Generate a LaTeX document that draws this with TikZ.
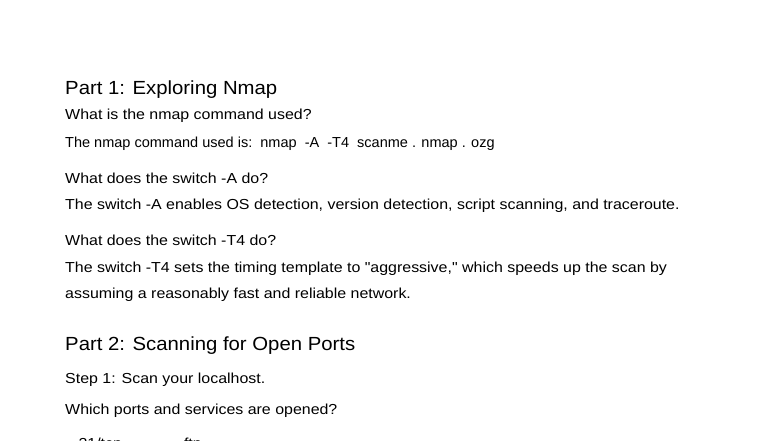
\documentclass[tikz,border=0pt]{standalone}
\usepackage{fontspec}
\setmainfont{Liberation Sans}
\newfontfamily\docfont{Liberation Sans}
\tikzset{
  head/.style={anchor=base west, inner sep=0pt, xscale=1.07, font=\docfont\fontsize{19}{22}\selectfont},
  body/.style={anchor=base west, inner sep=0pt, xscale=1.1, font=\docfont\fontsize{14.5}{17}\selectfont},
}
\begin{document}
\begin{tikzpicture}[x=1pt,y=-1pt]
\useasboundingbox (0,0) rectangle (784,441);
\clip (0,0) rectangle (784,441);

\node (p1) [head] at (65,95) {Part 1: Exploring Nmap};
\node (q1) [body] at (65,120) {What is the nmap command used?};
\node (a1) [body,xscale=0.91] at (65,147) {The nmap command used is:\ \ nmap\ \ -A\ \ -T4\ \ scanme . nmap . ozg};
\node (q2) [body] at (65,183) {What does the switch -A do?};
\node (a2) [body] at (65,209) {The switch -A enables OS detection, version detection, script scanning, and traceroute.};
\node (q3) [body] at (65,245) {What does the switch -T4 do?};
\node (a3) [body] at (65,272) {The switch -T4 sets the timing template to "aggressive," which speeds up the scan by};
\node (a3b) [body] at (65,298) {assuming a reasonably fast and reliable network.};
\node (p2) [head] at (65,350) {Part 2: Scanning for Open Ports};
\node (s1) [body] at (65,383) {Step 1: Scan your localhost.};
\node (q4) [body] at (65,414) {Which ports and services are opened?};
\node (r1) [body] at (65,448) {\ \ \ 21/tcp\ \ \ \ \ \ \ \ \ \ \ \ \ \ ftp};
\end{tikzpicture}
\end{document}
